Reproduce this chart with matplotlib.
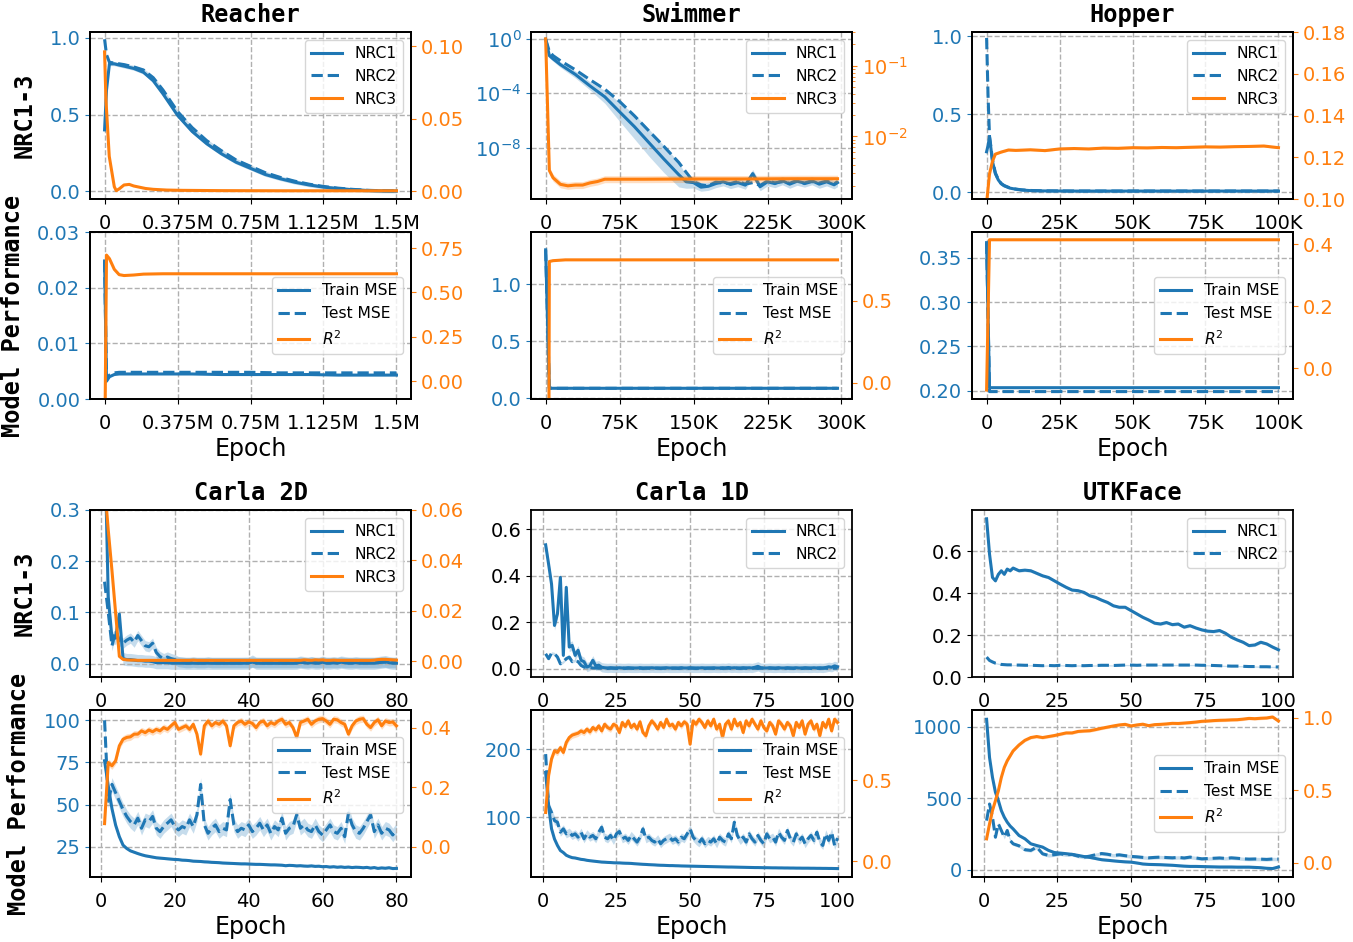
import numpy as np
import matplotlib
matplotlib.use('Agg')
import matplotlib.pyplot as plt
from matplotlib.ticker import NullLocator

BLUE = '#1f77b4'
ORANGE = '#ff7f0e'

# ---------------- Reacher ----------------
reacher_nrc_steps = [0, 10e3, 25e3, 50e3, 75e3, 100e3, 150e3, 200e3, 250e3, 300e3, 375e3, 450e3, 525e3,
                     600e3, 675e3, 750e3, 825e3, 900e3, 975e3, 1050e3, 1125e3, 1200e3, 1275e3, 1350e3,
                     1425e3, 1500e3]
reacher_nrc1 = [0.40, 0.66, 0.83, 0.83, 0.822, 0.815, 0.80, 0.775, 0.72, 0.635, 0.495, 0.39, 0.31, 0.245,
                0.19, 0.15, 0.11, 0.083, 0.06, 0.042, 0.028, 0.018, 0.011, 0.006, 0.003, 0.002]
reacher_nrc2 = [0.99, 0.89, 0.84, 0.835, 0.83, 0.825, 0.81, 0.79, 0.74, 0.66, 0.52, 0.415, 0.33, 0.265,
                0.205, 0.163, 0.122, 0.092, 0.067, 0.047, 0.032, 0.021, 0.013, 0.007, 0.004, 0.003]
reacher_nrc3_steps = [0, 7e3, 24e3, 50e3, 60e3, 75e3, 100e3, 127e3, 150e3, 210e3, 250e3, 320e3, 400e3,
                      600e3, 900e3, 1200e3, 1500e3]
reacher_nrc3 = [0.096, 0.063, 0.024, 0.003, 0.0003, 0.0015, 0.0042, 0.0046, 0.0035, 0.0018, 0.0012,
                0.0007, 0.0005, 0.0003, 0.0002, 0.0002, 0.0002]
reacher_perf_steps = [0, 10e3, 25e3, 50e3, 75e3, 100e3, 150e3, 200e3, 300e3, 450e3, 600e3, 750e3, 900e3,
                      1050e3, 1200e3, 1350e3, 1500e3]
reacher_train = [0.0248, 0.0032, 0.0040, 0.0044, 0.0045, 0.0045, 0.0045, 0.0045, 0.0045, 0.0045, 0.0044,
                 0.0044, 0.0044, 0.0044, 0.0043, 0.0043, 0.0043]
reacher_test = [0.0248, 0.0035, 0.0043, 0.0047, 0.0048, 0.0048, 0.0048, 0.0048, 0.0048, 0.0048, 0.0048,
                0.0048, 0.0047, 0.0047, 0.0047, 0.0047, 0.0047]
reacher_r2 = [-0.5, 0.71, 0.69, 0.63, 0.60, 0.595, 0.598, 0.603, 0.605, 0.605, 0.605, 0.605, 0.605, 0.605,
              0.605, 0.605, 0.605]
reacher_xticks = [0, 375e3, 750e3, 1125e3, 1500e3]
reacher_xlabels = ['0', '0.375M', '0.75M', '1.125M', '1.5M']

# ---------------- Swimmer ----------------
swimmer_nrc_steps = [0, 3750, 7500, 15000, 30000, 45000, 60000, 75000, 90000, 105000, 120000, 135000,
                     142500, 150000, 157500, 165000, 172500, 180000, 187500, 195000, 202500, 210000,
                     217500, 225000, 232500, 240000, 247500, 255000, 262500, 270000, 277500, 285000,
                     292500, 296000]
swimmer_nrc1 = [1.0, 0.06, 0.035, 0.013, 2.5e-3, 3.5e-4, 5.5e-5, 4.3e-6, 3.5e-7, 2.2e-8, 1.4e-9, 1.0e-10,
                3.0e-11, 2.6e-11, 1.2e-11, 1.4e-11, 2.2e-11, 3.0e-11, 1.9e-11, 2.6e-11, 1.7e-11, 1.2e-10,
                1.3e-11, 3.0e-11, 2.2e-11, 3.6e-11, 2.0e-11, 3.3e-11, 2.4e-11, 3.6e-11, 2.0e-11, 3.0e-11,
                1.8e-11, 2.6e-11]
swimmer_nrc1_spread = [1, 1.5, 1.5, 1.6, 1.8, 2, 3, 5, 8, 10, 10, 8, 3, 2.5, 2, 2, 2, 2, 2, 2, 2, 2, 2, 2,
                       2, 2, 2, 2, 2, 2, 2, 2, 2, 2]
swimmer_nrc2 = [1.0, 0.12, 0.06, 0.025, 5.5e-3, 1.0e-3, 2.0e-4, 2.5e-5, 2.2e-6, 1.6e-7, 1.2e-8, 8.0e-10,
                1.5e-10, 3.0e-11, 1.8e-11, 1.5e-11, 2.8e-11, 2.4e-11, 2.2e-11, 3.2e-11, 2.0e-11, 2.6e-11,
                1.6e-11, 3.4e-11, 2.5e-11, 3.0e-11, 2.3e-11, 3.8e-11, 2.2e-11, 3.1e-11, 2.4e-11, 3.4e-11,
                2.1e-11, 3.0e-11]
swimmer_nrc3_steps = [0, 3750, 7500, 15000, 22500, 30000, 37500, 45000, 52500, 60000, 100000, 150000,
                      200000, 250000, 296000]
swimmer_nrc3 = [0.24, 3.3e-3, 2.6e-3, 2.1e-3, 2.0e-3, 2.05e-3, 2.05e-3, 2.2e-3, 2.3e-3, 2.48e-3, 2.48e-3,
                2.5e-3, 2.5e-3, 2.52e-3, 2.52e-3]
swimmer_perf_steps = [0, 3750, 7500, 20000, 100000, 200000, 296000]
swimmer_train = [1.3, 0.088, 0.088, 0.088, 0.088, 0.088, 0.088]
swimmer_test = [1.3, 0.090, 0.088, 0.088, 0.088, 0.088, 0.088]
swimmer_r2 = [-8.0, 0.74, 0.745, 0.75, 0.75, 0.75, 0.75]
k_ticks = [0, 75000, 150000, 225000, 300000]
k_labels = ['0', '75K', '150K', '225K', '300K']

# ---------------- Hopper ----------------
hopper_nrc_steps = [0, 500, 1000, 1500, 2000, 3000, 4000, 5000, 6000, 8000, 10000, 12000, 15000, 20000,
                    30000, 40000, 50000, 60000, 70000, 80000, 90000, 100000]
hopper_nrc1 = [0.26, 0.30, 0.355, 0.28, 0.20, 0.12, 0.08, 0.055, 0.042, 0.027, 0.02, 0.015, 0.011, 0.009,
               0.008, 0.008, 0.008, 0.008, 0.008, 0.008, 0.008, 0.008]
hopper_nrc2 = [0.99, 0.62, 0.36, 0.29, 0.21, 0.125, 0.083, 0.057, 0.044, 0.028, 0.021, 0.016, 0.012, 0.0095,
               0.0085, 0.0085, 0.0085, 0.0085, 0.0085, 0.0085, 0.0085, 0.0085]
hopper_nrc3_steps = [0, 500, 1000, 2000, 3000, 5000, 7500, 10000, 15000, 20000, 25000, 30000, 35000, 40000,
                     45000, 50000, 55000, 60000, 65000, 70000, 75000, 80000, 85000, 90000, 95000, 100000]
hopper_nrc3 = [0.098, 0.105, 0.112, 0.118, 0.1215, 0.1225, 0.1235, 0.1233, 0.1236, 0.1232, 0.124, 0.1242,
               0.124, 0.1244, 0.1243, 0.1246, 0.1245, 0.1247, 0.1246, 0.1248, 0.125, 0.1249, 0.1251,
               0.1252, 0.1254, 0.1246]
hopper_perf_steps = [0, 1000, 2000, 50000, 100000]
hopper_train = [0.367, 0.2034, 0.2034, 0.2034, 0.2034]
hopper_test = [0.367, 0.199, 0.199, 0.199, 0.199]
hopper_r2 = [-0.07, 0.414, 0.414, 0.414, 0.414]
hopper_xticks = [0, 25000, 50000, 75000, 100000]
hopper_xlabels = ['0', '25K', '50K', '75K', '100K']

# ---------------- Carla 2D (epochs 1..80) ----------------
carla2d_nrc1 = [0.45, 0.13, 0.05, 0.05, 0.097, 0.01, 0.008, 0.008, 0.007, 0.006,
                0.006, 0.005, 0.005, 0.004, 0.002, 0.002, 0.002, 0.002, 0.001, 0.001,
                0.001, 0.001, 0.0008, 0.0008, 0.001, 0.0008, 0.0008, 0.0008, 0.001, 0.0008,
                0.0008, 0.0008, 0.0008, 0.0008, 0.0008, 0.0008, 0.0008, 0.0008, 0.001, 0.001,
                0.005, 0.001, 0.0008, 0.0008, 0.0008, 0.0008, 0.0008, 0.0008, 0.0008, 0.0008,
                0.0008, 0.0008, 0.001, 0.003, 0.002, 0.001, 0.002, 0.001, 0.001, 0.003,
                0.001, 0.001, 0.002, 0.001, 0.003, 0.002, 0.001, 0.001, 0.002, 0.001,
                0.001, 0.001, 0.001, 0.001, 0.002, 0.003, 0.004, 0.002, 0.001, 0.001]
carla2d_nrc2 = [0.16, 0.10, 0.035, 0.065, 0.045, 0.04, 0.046, 0.05, 0.042, 0.055,
                0.045, 0.035, 0.033, 0.04, 0.022, 0.014, 0.01, 0.013, 0.01, 0.008,
                0.004, 0.003, 0.002, 0.002, 0.003, 0.002, 0.002, 0.002, 0.003, 0.002,
                0.002, 0.002, 0.002, 0.002, 0.002, 0.002, 0.002, 0.002, 0.002, 0.002,
                0.003, 0.002, 0.002, 0.002, 0.002, 0.002, 0.002, 0.002, 0.002, 0.002,
                0.002, 0.002, 0.002, 0.003, 0.002, 0.002, 0.003, 0.002, 0.002, 0.003,
                0.002, 0.002, 0.002, 0.002, 0.003, 0.002, 0.002, 0.002, 0.002, 0.002,
                0.002, 0.002, 0.002, 0.002, 0.002, 0.003, 0.003, 0.002, 0.002, 0.002]
carla2d_nrc3 = [0.07, 0.052, 0.036, 0.019, 0.002, 0.0008, 0.0006, 0.0005, 0.0005, 0.0004,
                0.0004, 0.0004, 0.0004, 0.0004, 0.0004, 0.0004, 0.0004, 0.0004, 0.0004, 0.0004,
                0.0004, 0.0004, 0.0004, 0.0004, 0.0005, 0.0004, 0.0004, 0.0004, 0.0004, 0.0004,
                0.0004, 0.0004, 0.0004, 0.0004, 0.0004, 0.0004, 0.0004, 0.0004, 0.0004, 0.0004,
                0.0004, 0.0004, 0.0004, 0.0004, 0.0004, 0.0004, 0.0004, 0.0004, 0.0004, 0.0004,
                0.0004, 0.0004, 0.0004, 0.0004, 0.0006, 0.0005, 0.0004, 0.0006, 0.0005, 0.0006,
                0.0004, 0.0004, 0.0005, 0.0004, 0.0004, 0.0004, 0.0004, 0.0004, 0.0004, 0.0004,
                0.0004, 0.0004, 0.0004, 0.0005, 0.0007, 0.0008, 0.0008, 0.0007, 0.0006, 0.0005]
carla2d_train = [76, 61, 47.6, 37.8, 31, 26, 24, 22.6, 21.8, 21,
                 20.3, 19.7, 19.3, 18.9, 18.5, 18.3, 18.1, 17.9, 17.7, 17.5,
                 17.4, 17.1, 17.0, 16.8, 16.5, 16.4, 16.3, 16.1, 16.0, 15.8,
                 15.7, 15.6, 15.4, 15.3, 15.2, 15.1, 15.0, 14.9, 14.9, 14.8,
                 14.7, 14.6, 14.6, 14.5, 14.4, 14.3, 14.3, 14.2, 14.1, 13.8,
                 14.0, 13.9, 13.7, 13.8, 13.6, 13.5, 13.7, 13.4, 13.5, 13.2,
                 13.3, 13.0, 13.2, 12.9, 13.1, 12.8, 13.0, 12.7, 12.9, 12.8,
                 12.6, 12.8, 12.4, 12.7, 12.2, 12.5, 12.3, 12.6, 12.1, 12.2]
carla2d_test = [100, 52, 62, 57, 52, 47, 43, 40, 38, 42,
                36, 41, 40, 43, 36, 34, 37, 39, 41, 37,
                35, 37, 36, 41, 37, 44, 62, 38, 33, 36,
                38, 34, 36, 35, 53, 38, 34, 36, 35, 38,
                34, 36, 39, 35, 38, 33, 37, 35, 42, 33,
                36, 37, 44, 36, 38, 35, 34, 38, 34, 32,
                35, 38, 34, 33, 36, 31, 45, 38, 34, 33,
                36, 40, 44, 34, 38, 33, 36, 35, 32, 35]
carla2d_r2 = [0.078, 0.283, 0.272, 0.289, 0.339, 0.361, 0.367, 0.369, 0.378, 0.378,
              0.389, 0.383, 0.392, 0.386, 0.394, 0.389, 0.400, 0.394, 0.406, 0.417,
              0.394, 0.400, 0.406, 0.394, 0.411, 0.378, 0.311, 0.406, 0.422, 0.406,
              0.417, 0.411, 0.422, 0.406, 0.339, 0.406, 0.417, 0.422, 0.411, 0.419,
              0.414, 0.400, 0.417, 0.422, 0.406, 0.417, 0.411, 0.422, 0.428, 0.411,
              0.417, 0.400, 0.367, 0.417, 0.422, 0.428, 0.411, 0.422, 0.428, 0.430,
              0.422, 0.411, 0.428, 0.426, 0.417, 0.411, 0.378, 0.406, 0.422, 0.428,
              0.430, 0.411, 0.400, 0.417, 0.426, 0.406, 0.422, 0.417, 0.419, 0.406]
carla2d_xticks = [0, 20, 40, 60, 80]

# ---------------- Carla 1D (epochs 1..100) ----------------
carla1d_nrc1 = [0.533, 0.45, 0.364, 0.186, 0.236, 0.393, 0.057, 0.35, 0.093, 0.10,
                0.057, 0.079, 0.036, 0.03, 0.007, 0.012, 0.036, 0.012, 0.015, 0.006,
                0.004, 0.003, 0.004, 0.003, 0.003, 0.004, 0.003, 0.003, 0.004, 0.003,
                0.003, 0.003, 0.004, 0.003, 0.003, 0.003, 0.004, 0.003, 0.003, 0.003,
                0.003, 0.004, 0.003, 0.003, 0.003, 0.003, 0.004, 0.003, 0.003, 0.004,
                0.003, 0.003, 0.003, 0.004, 0.003, 0.003, 0.003, 0.004, 0.003, 0.003,
                0.004, 0.003, 0.005, 0.003, 0.004, 0.003, 0.003, 0.004, 0.003, 0.004,
                0.003, 0.006, 0.010, 0.004, 0.003, 0.003, 0.004, 0.003, 0.003, 0.004,
                0.003, 0.003, 0.004, 0.003, 0.003, 0.004, 0.003, 0.003, 0.004, 0.003,
                0.003, 0.004, 0.003, 0.004, 0.003, 0.005, 0.008, 0.006, 0.012, 0.008]
carla1d_nrc2 = [0.064, 0.043, 0.067, 0.064, 0.05, 0.021, 0.03, 0.043, 0.05, 0.03,
                0.036, 0.03, 0.014, 0.007, 0.004, 0.005, 0.003, 0.003, 0.002, 0.002,
                0.002, 0.001, 0.002, 0.002, 0.001, 0.002, 0.002, 0.001, 0.002, 0.002,
                0.001, 0.002, 0.002, 0.001, 0.002, 0.002, 0.001, 0.002, 0.002, 0.001,
                0.002, 0.002, 0.001, 0.002, 0.002, 0.001, 0.002, 0.002, 0.001, 0.002,
                0.002, 0.001, 0.002, 0.002, 0.001, 0.002, 0.002, 0.001, 0.002, 0.002,
                0.001, 0.002, 0.002, 0.001, 0.002, 0.002, 0.001, 0.002, 0.002, 0.001,
                0.002, 0.002, 0.001, 0.002, 0.002, 0.001, 0.002, 0.002, 0.001, 0.002,
                0.002, 0.001, 0.002, 0.002, 0.001, 0.002, 0.002, 0.001, 0.002, 0.002,
                0.001, 0.002, 0.002, 0.001, 0.002, 0.002, 0.001, 0.002, 0.002, 0.002]
carla1d_train = [166, 117, 83, 68, 58.5, 51, 48, 44, 42, 40.5,
                 40, 39, 38, 37.5, 36.6, 36, 35.5, 35, 34.5, 34,
                 33.8, 33.5, 33.3, 33, 32.8, 32.8, 32.5, 32.3, 32.2, 32,
                 31.6, 31.3, 31, 30.7, 30.5, 30.2, 30, 29.8, 29.5, 29.3,
                 29.2, 29, 28.8, 28.8, 28.6, 28.5, 28.3, 28.2, 28.1, 28,
                 27.9, 27.8, 27.7, 27.6, 27.5, 27.4, 27.3, 27.2, 27.1, 27,
                 26.9, 26.8, 26.7, 26.7, 26.6, 26.5, 26.4, 26.3, 26.2, 26.1,
                 26, 25.9, 25.9, 25.8, 25.7, 25.7, 25.6, 25.5, 25.5, 25.4,
                 25.4, 25.3, 25.3, 25.2, 25.2, 25.1, 25.1, 25, 25, 25,
                 24.9, 24.9, 24.8, 24.8, 24.7, 24.7, 24.6, 24.6, 24.5, 24.4]
carla1d_test = [193, 117, 107, 95, 92.7, 78, 82.9, 75.6, 78, 73.2,
                75.6, 70.7, 78, 68.3, 75.6, 70.7, 73.2, 68.3, 78, 85.4,
                70.7, 68.3, 73.2, 65.9, 75.6, 79, 68.3, 70.7, 65.9, 73.2,
                68.3, 63.4, 70.7, 82.9, 68.3, 70.7, 65.9, 63.4, 68.3, 61,
                65.9, 68.3, 70.7, 65.9, 68.3, 63.4, 70.7, 68.3, 75.6, 82.9,
                70.7, 65.9, 62.4, 68.3, 61, 65.9, 63.4, 68.3, 61, 70.7,
                65.9, 63.4, 75.6, 68.3, 92.7, 73.2, 65.9, 70.7, 63.4, 75.6,
                68.3, 63.4, 73.2, 65.9, 61, 75.6, 68.3, 70.7, 63.4, 78,
                70.7, 65.9, 80.5, 68.3, 63.4, 75.6, 65.9, 70.7, 61, 68.3,
                73.2, 65.9, 78, 63.4, 58.5, 75.6, 65.9, 78, 58.5, 69.3]
carla1d_r2 = [0.30, 0.527, 0.63, 0.68, 0.67, 0.70, 0.67, 0.732, 0.762, 0.777,
              0.783, 0.789, 0.803, 0.793, 0.814, 0.797, 0.824, 0.809, 0.834, 0.803,
              0.844, 0.824, 0.814, 0.844, 0.834, 0.793, 0.855, 0.83, 0.865, 0.824,
              0.844, 0.814, 0.859, 0.793, 0.773, 0.834, 0.865, 0.844, 0.814, 0.855,
              0.824, 0.875, 0.834, 0.844, 0.814, 0.855, 0.834, 0.859, 0.844, 0.721,
              0.865, 0.844, 0.875, 0.855, 0.824, 0.865, 0.834, 0.875, 0.814, 0.844,
              0.762, 0.844, 0.865, 0.814, 0.875, 0.834, 0.855, 0.793, 0.865, 0.834,
              0.875, 0.844, 0.814, 0.865, 0.824, 0.803, 0.855, 0.834, 0.783, 0.865,
              0.844, 0.814, 0.855, 0.834, 0.773, 0.855, 0.824, 0.865, 0.783, 0.844,
              0.865, 0.814, 0.844, 0.773, 0.855, 0.824, 0.875, 0.803, 0.875, 0.855]
hundred_ticks = [0, 25, 50, 75, 100]

# ---------------- UTKFace ----------------
utk_epochs = [1, 2, 3, 4, 5, 6, 7, 8, 9, 10] + list(range(12, 101, 2))
utk_nrc1 = [0.755, 0.586, 0.475, 0.459, 0.49, 0.507, 0.49, 0.515, 0.507, 0.52,
            0.507, 0.51, 0.507, 0.495, 0.483, 0.475, 0.459, 0.443, 0.428, 0.415,
            0.412, 0.404, 0.388, 0.38, 0.367, 0.356, 0.34, 0.333, 0.333, 0.317,
            0.301, 0.285, 0.272, 0.257, 0.253, 0.26, 0.25, 0.253, 0.238, 0.245,
            0.234, 0.225, 0.219, 0.217, 0.222, 0.209, 0.19, 0.177, 0.166, 0.15,
            0.153, 0.166, 0.158, 0.143, 0.13]
utk_nrc2 = [0.095, 0.079, 0.072, 0.066, 0.063, 0.06, 0.059, 0.058, 0.058, 0.057,
            0.057, 0.056, 0.056, 0.055, 0.054, 0.055, 0.054, 0.056, 0.055, 0.054,
            0.055, 0.054, 0.055, 0.055, 0.056, 0.056, 0.055, 0.056, 0.057, 0.057,
            0.056, 0.057, 0.057, 0.057, 0.057, 0.057, 0.057, 0.057, 0.057, 0.057,
            0.057, 0.056, 0.056, 0.055, 0.054, 0.053, 0.052, 0.052, 0.051, 0.05,
            0.05, 0.049, 0.049, 0.048, 0.048]
utk_train = [1051, 784, 645, 541, 483, 413, 367, 332, 305, 285,
             239, 216, 181, 169, 158, 135, 120, 116, 112, 107,
             100, 92, 86, 78, 70, 66, 62, 58, 55, 53,
             47, 40, 37, 36, 35, 33, 31, 28, 25, 23,
             23, 22, 21, 20, 19, 19, 19, 18, 18, 18,
             16, 14, 10, 8, 19]
utk_test = [343, 459, 367, 227, 320, 274, 227, 274, 204, 181,
            167, 140, 135, 158, 111, 100, 105, 111, 104, 107,
            95, 88, 95, 105, 113, 108, 100, 104, 98, 93,
            90, 86, 83, 86, 88, 85, 83, 86, 82, 88,
            82, 76, 78, 80, 82, 79, 83, 80, 76, 74,
            75, 74, 72, 75, 74]
utk_r2 = [0.165, 0.268, 0.36, 0.428, 0.497, 0.588, 0.657, 0.703, 0.737, 0.771,
          0.812, 0.844, 0.863, 0.87, 0.863, 0.87, 0.877, 0.886, 0.895, 0.895,
          0.905, 0.908, 0.91, 0.918, 0.927, 0.935, 0.943, 0.95, 0.954, 0.943,
          0.95, 0.955, 0.945, 0.952, 0.954, 0.957, 0.961, 0.96, 0.963, 0.966,
          0.97, 0.975, 0.977, 0.98, 0.982, 0.983, 0.985, 0.986, 0.99, 0.995,
          0.993, 0.996, 0.998, 1.005, 0.977]

TICK_FS = 14
LEG_FS = 11.2
LABEL_FS = 17
MONO = 'DejaVu Sans Mono'

COL_X = [0.0665, 0.3925, 0.7184]
ROW_Y = [0.7887, 0.5764, 0.2813, 0.0690]
AX_W, AX_H = 0.2373, 0.1773


def panel(fig, col, row):
    '''
    Create one axes box at the given grid slot.
    '''
    ax = fig.add_axes([COL_X[col], ROW_Y[row], AX_W, AX_H])
    ax.grid(True, linestyle='--', color='#b0b0b0', linewidth=1.0)
    ax.tick_params(axis='x', labelsize=TICK_FS, pad=7)
    for s in ax.spines.values():
        s.set_linewidth(1.3)
    return ax


def trace(ax, x, y, color, ls, label, band=None):
    '''
    Plot a line with an optional shaded band (lo, hi).
    '''
    x = np.asarray(x, dtype=float)
    y = np.asarray(y, dtype=float)
    if band is not None:
        ax.fill_between(x, band[0], band[1], color=color, alpha=0.25, linewidth=0)
    line, = ax.plot(x, y, color=color, linestyle=ls, linewidth=2.2, label=label)
    return line


def spread(y, w):
    y = np.asarray(y, dtype=float)
    return y - w, y + w


def style_y(ax, ticks, lim, color):
    ax.set_ylim(*lim)
    ax.set_yticks(ticks)
    ax.tick_params(axis='y', which='both', colors=color, labelsize=TICK_FS)


def twin(ax):
    ax2 = ax.twinx()
    for s in ax2.spines.values():
        s.set_linewidth(1.3)
    return ax2


def title(ax, text):
    ax.set_title(text, fontsize=LABEL_FS, fontweight='bold', family=MONO, pad=7)


def ylabel(ax, text):
    ax.set_ylabel(text, fontsize=LABEL_FS, fontweight='bold', family=MONO, labelpad=9)


def xlabel(ax):
    ax.set_xlabel('Epoch', fontsize=LABEL_FS, labelpad=3)


def add_legend(ax, handles, loc, anchor=None):
    kw = dict(handles=handles, loc=loc, fontsize=LEG_FS)
    if anchor is not None:
        kw['bbox_to_anchor'] = anchor
    ax.legend(**kw)


def main():
    fig = plt.figure(figsize=(13.53, 9.42), dpi=100)

    # ---- Reacher ----
    ax = panel(fig, 0, 0)
    ax2 = twin(ax)
    h1 = trace(ax, reacher_nrc_steps, reacher_nrc1, BLUE, '-', 'NRC1', spread(reacher_nrc1, 0.012))
    h2 = trace(ax, reacher_nrc_steps, reacher_nrc2, BLUE, '--', 'NRC2', spread(reacher_nrc2, 0.01))
    h3 = trace(ax2, reacher_nrc3_steps, reacher_nrc3, ORANGE, '-', 'NRC3')
    style_y(ax, [0, 0.5, 1.0], (-0.05, 1.037), BLUE)
    style_y(ax2, [0, 0.05, 0.10], (-0.0055, 0.1097), ORANGE)
    ax.set_xticks(reacher_xticks, reacher_xlabels)
    add_legend(ax2, [h1, h2, h3], 'upper right')
    title(ax, 'Reacher')
    ylabel(ax, 'NRC1-3')

    ax = panel(fig, 0, 1)
    ax2 = twin(ax)
    h1 = trace(ax, reacher_perf_steps, reacher_train, BLUE, '-', 'Train MSE')
    h2 = trace(ax, reacher_perf_steps, reacher_test, BLUE, '--', 'Test MSE')
    h3 = trace(ax2, reacher_perf_steps, reacher_r2, ORANGE, '-', '$R^2$')
    style_y(ax, [0, 0.01, 0.02, 0.03], (0, 0.03), BLUE)
    style_y(ax2, [0, 0.25, 0.5, 0.75], (-0.10, 0.84), ORANGE)
    ax.set_xticks(reacher_xticks, reacher_xlabels)
    add_legend(ax2, [h1, h2, h3], 'center right')
    xlabel(ax)
    ylabel(ax, 'Model Performance')

    # ---- Swimmer ----
    ax = panel(fig, 1, 0)
    ax2 = twin(ax)
    ax.set_yscale('log')
    ax2.set_yscale('log')
    s1 = np.asarray(swimmer_nrc1)
    f1 = np.asarray(swimmer_nrc1_spread, dtype=float)
    h1 = trace(ax, swimmer_nrc_steps, swimmer_nrc1, BLUE, '-', 'NRC1', (s1 / f1, s1 * f1))
    h2 = trace(ax, swimmer_nrc_steps, swimmer_nrc2, BLUE, '--', 'NRC2')
    s3 = np.asarray(swimmer_nrc3)
    h3 = trace(ax2, swimmer_nrc3_steps, swimmer_nrc3, ORANGE, '-', 'NRC3', (s3 / 1.12, s3 * 1.12))
    style_y(ax, [1e0, 1e-4, 1e-8], (1.6e-12, 3.3), BLUE)
    ax.yaxis.set_minor_locator(NullLocator())
    ax2.set_ylim(1.3e-3, 0.30)
    ax2.tick_params(axis='y', which='both', colors=ORANGE, labelsize=TICK_FS)
    ax.set_xticks(k_ticks, k_labels)
    add_legend(ax2, [h1, h2, h3], 'upper right')
    title(ax, 'Swimmer')

    ax = panel(fig, 1, 1)
    ax2 = twin(ax)
    h1 = trace(ax, swimmer_perf_steps, swimmer_train, BLUE, '-', 'Train MSE')
    h2 = trace(ax, swimmer_perf_steps, swimmer_test, BLUE, '--', 'Test MSE')
    h3 = trace(ax2, swimmer_perf_steps, swimmer_r2, ORANGE, '-', '$R^2$')
    style_y(ax, [0, 0.5, 1.0], (-0.006, 1.456), BLUE)
    style_y(ax2, [0, 0.5], (-0.10, 0.92), ORANGE)
    ax.set_xticks(k_ticks, k_labels)
    add_legend(ax2, [h1, h2, h3], 'center right')
    xlabel(ax)

    # ---- Hopper ----
    ax = panel(fig, 2, 0)
    ax2 = twin(ax)
    h1 = trace(ax, hopper_nrc_steps, hopper_nrc1, BLUE, '-', 'NRC1')
    h2 = trace(ax, hopper_nrc_steps, hopper_nrc2, BLUE, '--', 'NRC2')
    h3 = trace(ax2, hopper_nrc3_steps, hopper_nrc3, ORANGE, '-', 'NRC3', spread(hopper_nrc3, 0.0005))
    style_y(ax, [0, 0.5, 1.0], (-0.043, 1.028), BLUE)
    style_y(ax2, [0.10, 0.12, 0.14, 0.16, 0.18], (0.10, 0.18), ORANGE)
    ax.set_xticks(hopper_xticks, hopper_xlabels)
    add_legend(ax2, [h1, h2, h3], 'upper right')
    title(ax, 'Hopper')

    ax = panel(fig, 2, 1)
    ax2 = twin(ax)
    h1 = trace(ax, hopper_perf_steps, hopper_train, BLUE, '-', 'Train MSE')
    h2 = trace(ax, hopper_perf_steps, hopper_test, BLUE, '--', 'Test MSE')
    h3 = trace(ax2, hopper_perf_steps, hopper_r2, ORANGE, '-', '$R^2$')
    style_y(ax, [0.20, 0.25, 0.30, 0.35], (0.1906, 0.379), BLUE)
    style_y(ax2, [0.0, 0.2, 0.4], (-0.099, 0.439), ORANGE)
    ax.set_xticks(hopper_xticks, hopper_xlabels)
    add_legend(ax2, [h1, h2, h3], 'center right')
    xlabel(ax)

    # ---- Carla 2D ----
    ep80 = np.arange(1, 81)
    ax = panel(fig, 0, 2)
    ax2 = twin(ax)
    h1 = trace(ax, ep80, carla2d_nrc1, BLUE, '-', 'NRC1', spread(carla2d_nrc1, 0.012))
    h2 = trace(ax, ep80, carla2d_nrc2, BLUE, '--', 'NRC2', spread(carla2d_nrc2, 0.01))
    h3 = trace(ax2, ep80, carla2d_nrc3, ORANGE, '-', 'NRC3')
    style_y(ax, [0, 0.1, 0.2, 0.3], (-0.026, 0.3), BLUE)
    style_y(ax2, [0, 0.02, 0.04, 0.06], (-0.0062, 0.06), ORANGE)
    ax.set_xticks(carla2d_xticks)
    add_legend(ax2, [h1, h2, h3], 'upper right')
    title(ax, 'Carla 2D')
    ylabel(ax, 'NRC1-3')

    ax = panel(fig, 0, 3)
    ax2 = twin(ax)
    h1 = trace(ax, ep80, carla2d_train, BLUE, '-', 'Train MSE', spread(carla2d_train, 0.6))
    h2 = trace(ax, ep80, carla2d_test, BLUE, '--', 'Test MSE', spread(carla2d_test, 4))
    h3 = trace(ax2, ep80, carla2d_r2, ORANGE, '-', '$R^2$', spread(carla2d_r2, 0.012))
    style_y(ax, [25, 50, 75, 100], (7.1, 106.1), BLUE)
    style_y(ax2, [0.0, 0.2, 0.4], (-0.101, 0.459), ORANGE)
    ax.set_xticks(carla2d_xticks)
    add_legend(ax2, [h1, h2, h3], 'center right', (1, 0.61))
    xlabel(ax)
    ylabel(ax, 'Model Performance')

    # ---- Carla 1D ----
    ep100 = np.arange(1, 101)
    ax = panel(fig, 1, 2)
    h1 = trace(ax, ep100, carla1d_nrc1, BLUE, '-', 'NRC1', spread(carla1d_nrc1, 0.02))
    h2 = trace(ax, ep100, carla1d_nrc2, BLUE, '--', 'NRC2', spread(carla1d_nrc2, 0.006))
    style_y(ax, [0, 0.2, 0.4, 0.6], (-0.036, 0.683), 'black')
    ax.set_xticks(hundred_ticks)
    add_legend(ax, [h1, h2], 'upper right')
    title(ax, 'Carla 1D')

    ax = panel(fig, 1, 3)
    ax2 = twin(ax)
    h1 = trace(ax, ep100, carla1d_train, BLUE, '-', 'Train MSE', spread(carla1d_train, 1.0))
    h2 = trace(ax, ep100, carla1d_test, BLUE, '--', 'Test MSE', spread(carla1d_test, 6))
    h3 = trace(ax2, ep100, carla1d_r2, ORANGE, '-', '$R^2$', spread(carla1d_r2, 0.02))
    style_y(ax, [100, 200], (12, 258), BLUE)
    style_y(ax2, [0.0, 0.5], (-0.098, 0.932), ORANGE)
    ax.set_xticks(hundred_ticks)
    add_legend(ax2, [h1, h2, h3], 'center right', (1, 0.61))
    xlabel(ax)

    # ---- UTKFace ----
    ax = panel(fig, 2, 2)
    h1 = trace(ax, utk_epochs, utk_nrc1, BLUE, '-', 'NRC1', spread(utk_nrc1, 0.007))
    h2 = trace(ax, utk_epochs, utk_nrc2, BLUE, '--', 'NRC2', spread(utk_nrc2, 0.003))
    style_y(ax, [0, 0.2, 0.4, 0.6], (0, 0.797), 'black')
    ax.set_xticks(hundred_ticks)
    add_legend(ax, [h1, h2], 'upper right')
    title(ax, 'UTKFace')

    ax = panel(fig, 2, 3)
    ax2 = twin(ax)
    h1 = trace(ax, utk_epochs, utk_train, BLUE, '-', 'Train MSE', spread(utk_train, 8))
    h2 = trace(ax, utk_epochs, utk_test, BLUE, '--', 'Test MSE', spread(utk_test, 12))
    h3 = trace(ax2, utk_epochs, utk_r2, ORANGE, '-', '$R^2$', spread(utk_r2, 0.01))
    style_y(ax, [0, 500, 1000], (-51, 1116), BLUE)
    style_y(ax2, [0.0, 0.5, 1.0], (-0.098, 1.053), ORANGE)
    ax.set_xticks(hundred_ticks)
    add_legend(ax2, [h1, h2, h3], 'center right')
    xlabel(ax)

    fig.savefig('out.png', dpi=100)


if __name__ == '__main__':
    main()
